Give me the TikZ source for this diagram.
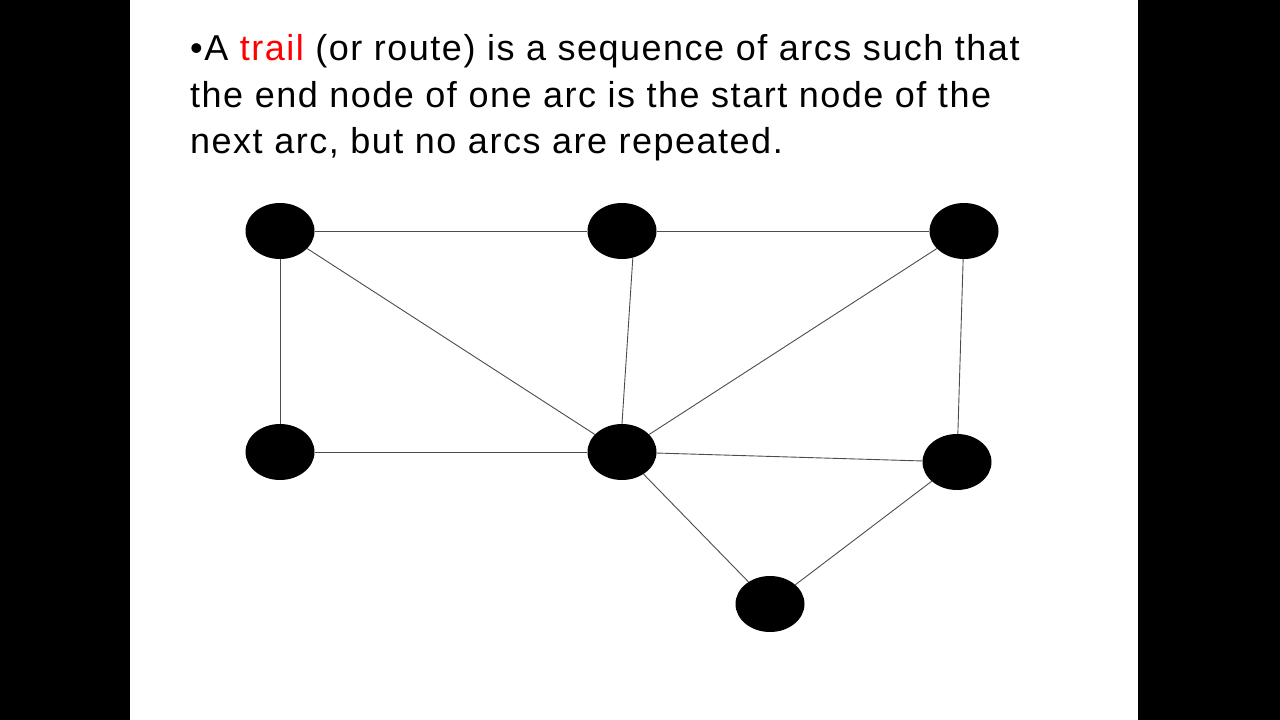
\documentclass[tikz,border=0pt]{standalone}
\usepackage{fontspec}
\setmainfont{Liberation Sans}
\newfontfamily\slidefont[LetterSpace=4.2]{Liberation Sans}
\usetikzlibrary{shapes.geometric}
\begin{document}
\begin{tikzpicture}[x=1pt,y=-1pt,
  vtx/.style={ellipse,fill=black,minimum width=69pt,minimum height=56pt,inner sep=0pt},
  arc/.style={draw=black!70,line width=0.9pt},
  txt/.style={anchor=base west,inner sep=0pt,font=\slidefont\fontsize{36}{42}\selectfont}]
\useasboundingbox (0,0) rectangle (1280,720);
\fill[black] (0,0) rectangle (130,720);
\fill[black] (1138,0) rectangle (1280,720);
\node[txt] (l1) at (190,60) {•A \textcolor{red}{trail} (or route) is a sequence of arcs such that};
\node[txt] (l2) at (190,107) {the end node of one arc is the start node of the};
\node[txt] (l3) at (190,153) {next arc, but no arcs are repeated.};
\node[vtx] (A) at (280,231) {};
\node[vtx] (B) at (622,231) {};
\node[vtx] (C) at (964,231) {};
\node[vtx] (D) at (280,452) {};
\node[vtx] (E) at (622,452) {};
\node[vtx] (F) at (957,462) {};
\node[vtx] (G) at (770,604) {};
\draw[arc] (A) -- (B);
\draw[arc] (B) -- (C);
\draw[arc] (A) -- (D);
\draw[arc] (A) -- (E);
\draw[arc] (B.-68) -- (E.north);
\draw[arc] (C) -- (E);
\draw[arc] (C) -- (F);
\draw[arc] (D) -- (E);
\draw[arc] (E) -- (F);
\draw[arc] (E) -- (G);
\draw[arc] (F) -- (G);
\end{tikzpicture}
\end{document}
